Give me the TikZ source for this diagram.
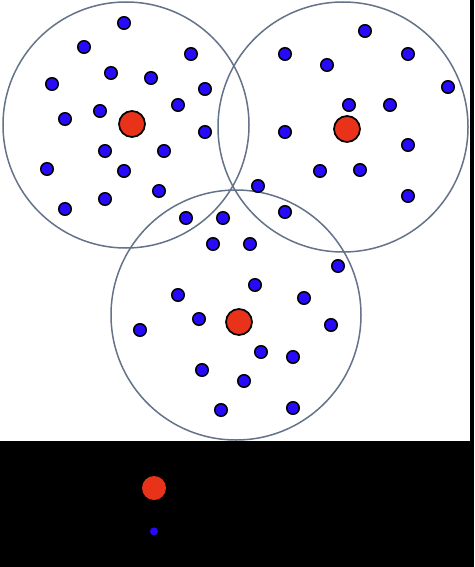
\documentclass[tikz,border=0pt]{standalone}
\usepackage{tikz}
\usetikzlibrary{positioning}
\definecolor{ringgray}{RGB}{100,114,138}
\definecolor{hubred}{RGB}{232,50,26}
\definecolor{dotblue}{RGB}{40,10,250}
\tikzset{
  Hub/.style = {
    circle, draw = black, line width = 1.7pt, fill = hubred,
    inner sep = 0pt, minimum size = 26pt,
  },
  Dot/.style = {
    circle, draw = black, line width = 1.5pt, fill = dotblue,
    inner sep = 0pt, minimum size = 12.5pt,
  },
  Ring/.style = {
    draw = ringgray, line width = 1.5pt,
  }
}

\begin{document}
\begin{tikzpicture}[x=1pt, y=-1pt]
      \useasboundingbox (0,0) rectangle (474,567);
      \fill[white] (0,0) rectangle (474,567);
      % black bands
      \fill[black] (0,441) rectangle (474,567);
      \fill[black] (470,0) rectangle (474,441);
      % cluster centres and their ranges
      \coordinate (c1) at (126,125);
      \coordinate (c2) at (343,127);
      \coordinate (c3) at (236,315);
      \draw[Ring] (c1) circle[radius=123pt];
      \draw[Ring] (c2) circle[radius=125pt];
      \draw[Ring] (c3) circle[radius=125pt];
      % members
      \foreach \x/\y [count=\i] in {
        124/23, 84/47, 191/54, 111/73, 151/78, 52/84, 205/89, 178/105,
        100/111, 65/119, 205/132, 105/151, 164/151, 47/169, 124/171,
        159/191, 105/199, 65/209, 186/218, 223/218,
        365/31, 285/54, 408/54, 327/65, 448/87, 349/105, 390/105,
        285/132, 408/145, 320/171, 360/170, 258/186, 408/196, 285/212,
        213/244, 250/244, 338/266, 255/285, 178/295, 304/298, 199/319,
        140/330, 331/325, 261/352, 293/357, 202/370, 244/381, 221/410,
        293/408}
        \node[Dot] (d\i) at (\x,\y) {};
      % heads
      \node[Hub] (h1) at (132,124) {};
      \node[Hub] (h2) at (347,129) {};
      \node[Hub] (h3) at (239,322) {};
      % legend
      \node[circle, fill=hubred, inner sep=0pt, minimum size=24pt] (keyhub) at (154,488) {};
      \node[circle, fill=dotblue, inner sep=0pt, minimum size=8pt, below=27pt of keyhub] (keydot) {};
    \end{tikzpicture}
\end{document}
